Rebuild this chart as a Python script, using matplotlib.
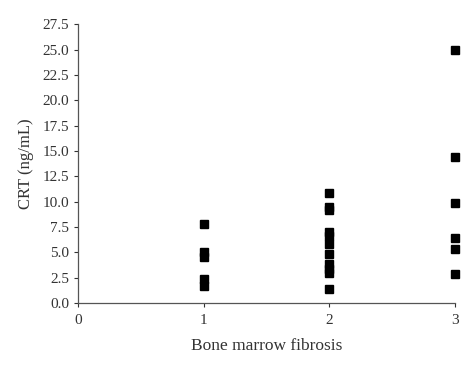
import matplotlib.pyplot as plt

# data
fibrosis_1 = [7.8, 5.0, 4.6, 2.4, 1.7]
fibrosis_2 = [10.9, 9.5, 9.2, 7.0, 6.6, 5.8, 4.8, 3.9, 3.4, 3.0, 1.4]
fibrosis_3 = [25.0, 14.4, 9.9, 6.4, 5.3, 2.9]
grades = [1, 2, 3]

x_ticks = [0, 1, 2, 3]
y_ticks = [0.0, 2.5, 5.0, 7.5, 10.0, 12.5, 15.0, 17.5, 20.0, 22.5, 25.0, 27.5]

plt.rcParams["font.family"] = ["Liberation Serif", "DejaVu Serif"]

fig = plt.figure(figsize=(4.74, 3.72), dpi=100)
ax = fig.add_axes([0.165, 0.185, 0.795, 0.75])

for g, vals in zip(grades, [fibrosis_1, fibrosis_2, fibrosis_3]):
    ax.plot([g] * len(vals), vals, linestyle="none", marker="s",
            markersize=5.5, color="black", clip_on=False)

ax.set_xlim(0, 3)
ax.set_ylim(0, 27.5)
ax.set_xticks(x_ticks)
ax.set_yticks(y_ticks)
ax.set_yticklabels([f"{v:.1f}" for v in y_ticks])

for side in ["top", "right"]:
    ax.spines[side].set_visible(False)
for side in ["left", "bottom"]:
    ax.spines[side].set_color("#555555")
    ax.spines[side].set_linewidth(0.9)

ax.tick_params(axis="both", labelsize=11, colors="#333333",
               length=3, width=0.8, direction="out")
ax.tick_params(axis="x", pad=5)

ax.set_xlabel("Bone marrow fibrosis", fontsize=12.5, color="#333333", labelpad=8)
ax.set_ylabel("CRT (ng/mL)", fontsize=12, color="#333333", labelpad=6)

plt.savefig("out.png", dpi=100)
